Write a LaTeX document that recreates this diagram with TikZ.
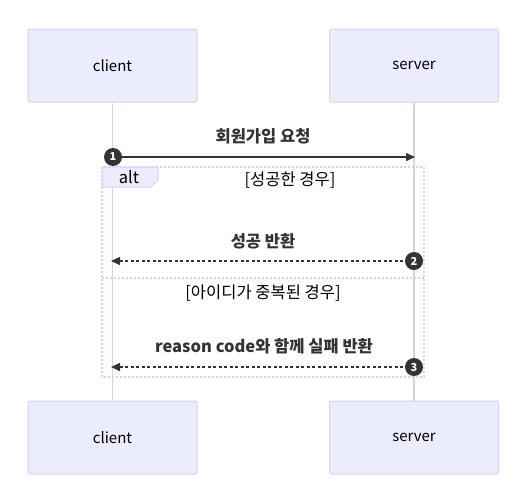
\documentclass[tikz,border=0pt]{standalone}
\usepackage{fontspec}
\setmainfont{Noto Sans CJK KR}
\usetikzlibrary{arrows.meta}
\definecolor{actorfill}{HTML}{ECECFF}
\definecolor{actorline}{HTML}{D9CFF3}
\definecolor{ink}{HTML}{333333}
\tikzset{
	actor/.style = {draw = actorline, fill = actorfill, rounded corners = 2pt, line width = 1pt,
		minimum width = 169pt, minimum height = 73pt, text = black, font = \fontsize{15}{17}\selectfont},
	msgtext/.style = {text = ink, font = \fontsize{16.5}{19}\selectfont\bfseries},
	guard/.style = {text = black, font = \fontsize{16.5}{19}\selectfont},
	seq/.style = {circle, fill = ink, text = white, inner sep = 0pt, minimum size = 18pt,
		font = \fontsize{11}{11}\selectfont\bfseries},
	call/.style = {ink, line width = 1.5pt, -{Triangle[length = 9pt, width = 8pt]}},
	reply/.style = {call, dash pattern = on 3pt off 2.5pt},
	frame/.style = {actorline, line width = 1.5pt, dash pattern = on 2pt off 2pt}
}
\begin{document}
\begin{tikzpicture}[x = 1pt, y = -1pt]
		\useasboundingbox (0, 0) rectangle (518, 498);
		% actors
		\node[actor] (clientTop) at (112.5, 65.5) {client};
		\node[actor] (serverTop) at (414, 65.5) {server};
		\node[actor] (clientBot) at (112.5, 437.5) {client};
		\node[actor] (serverBot) at (414, 437.5) {server};
		% lifelines
		\draw[actorline, line width = 1.5pt] (clientTop) -- (clientBot);
		\draw[actorline, line width = 1.5pt] (serverTop) -- (serverBot);
		% alt frame
		\draw[frame] (102, 167) rectangle (424, 377);
		\draw[frame] (102, 278) -- (424, 278);
		\draw[actorline, fill = actorfill, line width = 1pt] (102, 167) -- (158, 167) -- (158, 180) -- (151, 187) -- (102, 187) -- cycle;
		\node[guard] (alt) at (129, 177.5) {alt};
		\node[guard] (okGuard) at (290, 180) {[성공한 경우]};
		\node[guard] (dupGuard) at (263, 293) {[아이디가 중복된 경우]};
		% lifeline points
		\foreach \name/\x/\y in {c1/113/157, s1/415/157, c2/111/261, s2/414/261, c3/111/367, s3/414/367}
			\coordinate (\name) at (\x, \y);
		% messages
		\node[msgtext] (m1) at (263, 136) {회원가입 요청};
		\node[msgtext] (m2) at (263, 241) {성공 반환};
		\node[msgtext] (m3) at (264, 346) {reason code와 함께 실패 반환};
		\draw[call] (c1) -- (s1);
		\draw[reply] (s2) -- (c2);
		\draw[reply] (s3) -- (c3);
		\node[seq] (n1) at (c1) {1};
		\node[seq] (n2) at (s2) {2};
		\node[seq] (n3) at (s3) {3};
	\end{tikzpicture}
\end{document}
